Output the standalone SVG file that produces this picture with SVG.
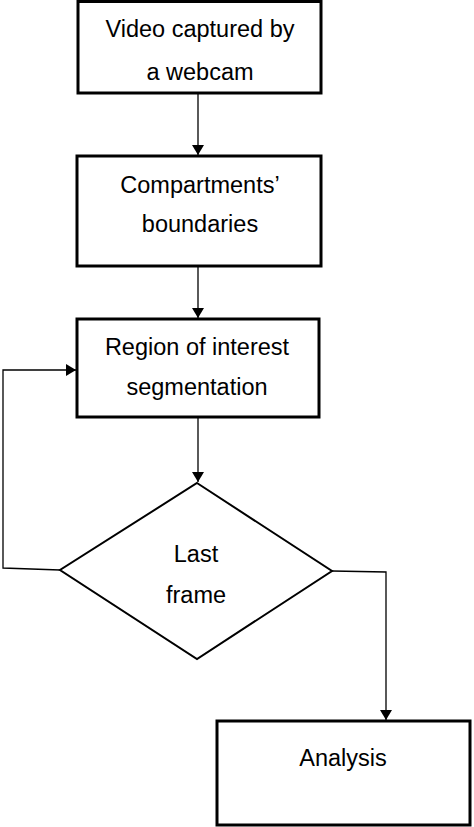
<svg xmlns="http://www.w3.org/2000/svg" width="474" height="827" viewBox="0 0 474 827">
<defs>
<marker id="ah" viewBox="0 0 10 12" refX="10" refY="6" markerWidth="10" markerHeight="12" markerUnits="userSpaceOnUse" orient="auto">
<path d="M0,0 L10,6 L0,12 Z" fill="#000"/>
</marker>
</defs>
<style>
.box{fill:#fff;stroke:#000;stroke-width:3}
.t{font-family:"Liberation Sans",Arial,sans-serif;font-size:23.5px;fill:#000;text-anchor:middle}
.c{fill:none;stroke:#000;stroke-width:1.3}
</style>
<rect width="474" height="827" fill="#fff"/>
<g id="connectors">
<line class="c" x1="198" y1="93" x2="198" y2="155" marker-end="url(#ah)"/>
<line class="c" x1="198" y1="266" x2="198" y2="318" marker-end="url(#ah)"/>
<line class="c" x1="198" y1="417" x2="198" y2="482" marker-end="url(#ah)"/>
<polyline class="c" points="60,570 3,568 3,370 76,370" marker-end="url(#ah)"/>
<polyline class="c" points="332,571 386,572 386,720" marker-end="url(#ah)"/>
</g>
<g id="n1">
<rect class="box" x="78" y="1.5" width="243" height="91.5"/>
<text class="t" x="200" y="37">Video captured by</text>
<text class="t" x="200" y="80">a webcam</text>
</g>
<g id="n2">
<rect class="box" x="77" y="156" width="244" height="110"/>
<text class="t" x="200" y="193">Compartments’</text>
<text class="t" x="200" y="232">boundaries</text>
</g>
<g id="n3">
<rect class="box" x="77" y="319" width="242" height="98"/>
<text class="t" x="197" y="355">Region of interest</text>
<text class="t" x="197" y="395">segmentation</text>
</g>
<g id="n4">
<polygon points="197,483 332,571 197,659 60,570" fill="#fff" stroke="#000" stroke-width="2"/>
<text class="t" x="196" y="562">Last</text>
<text class="t" x="196" y="603">frame</text>
</g>
<g id="n5">
<rect class="box" x="217" y="721" width="253" height="104"/>
<text class="t" x="343" y="766">Analysis</text>
</g>
</svg>
